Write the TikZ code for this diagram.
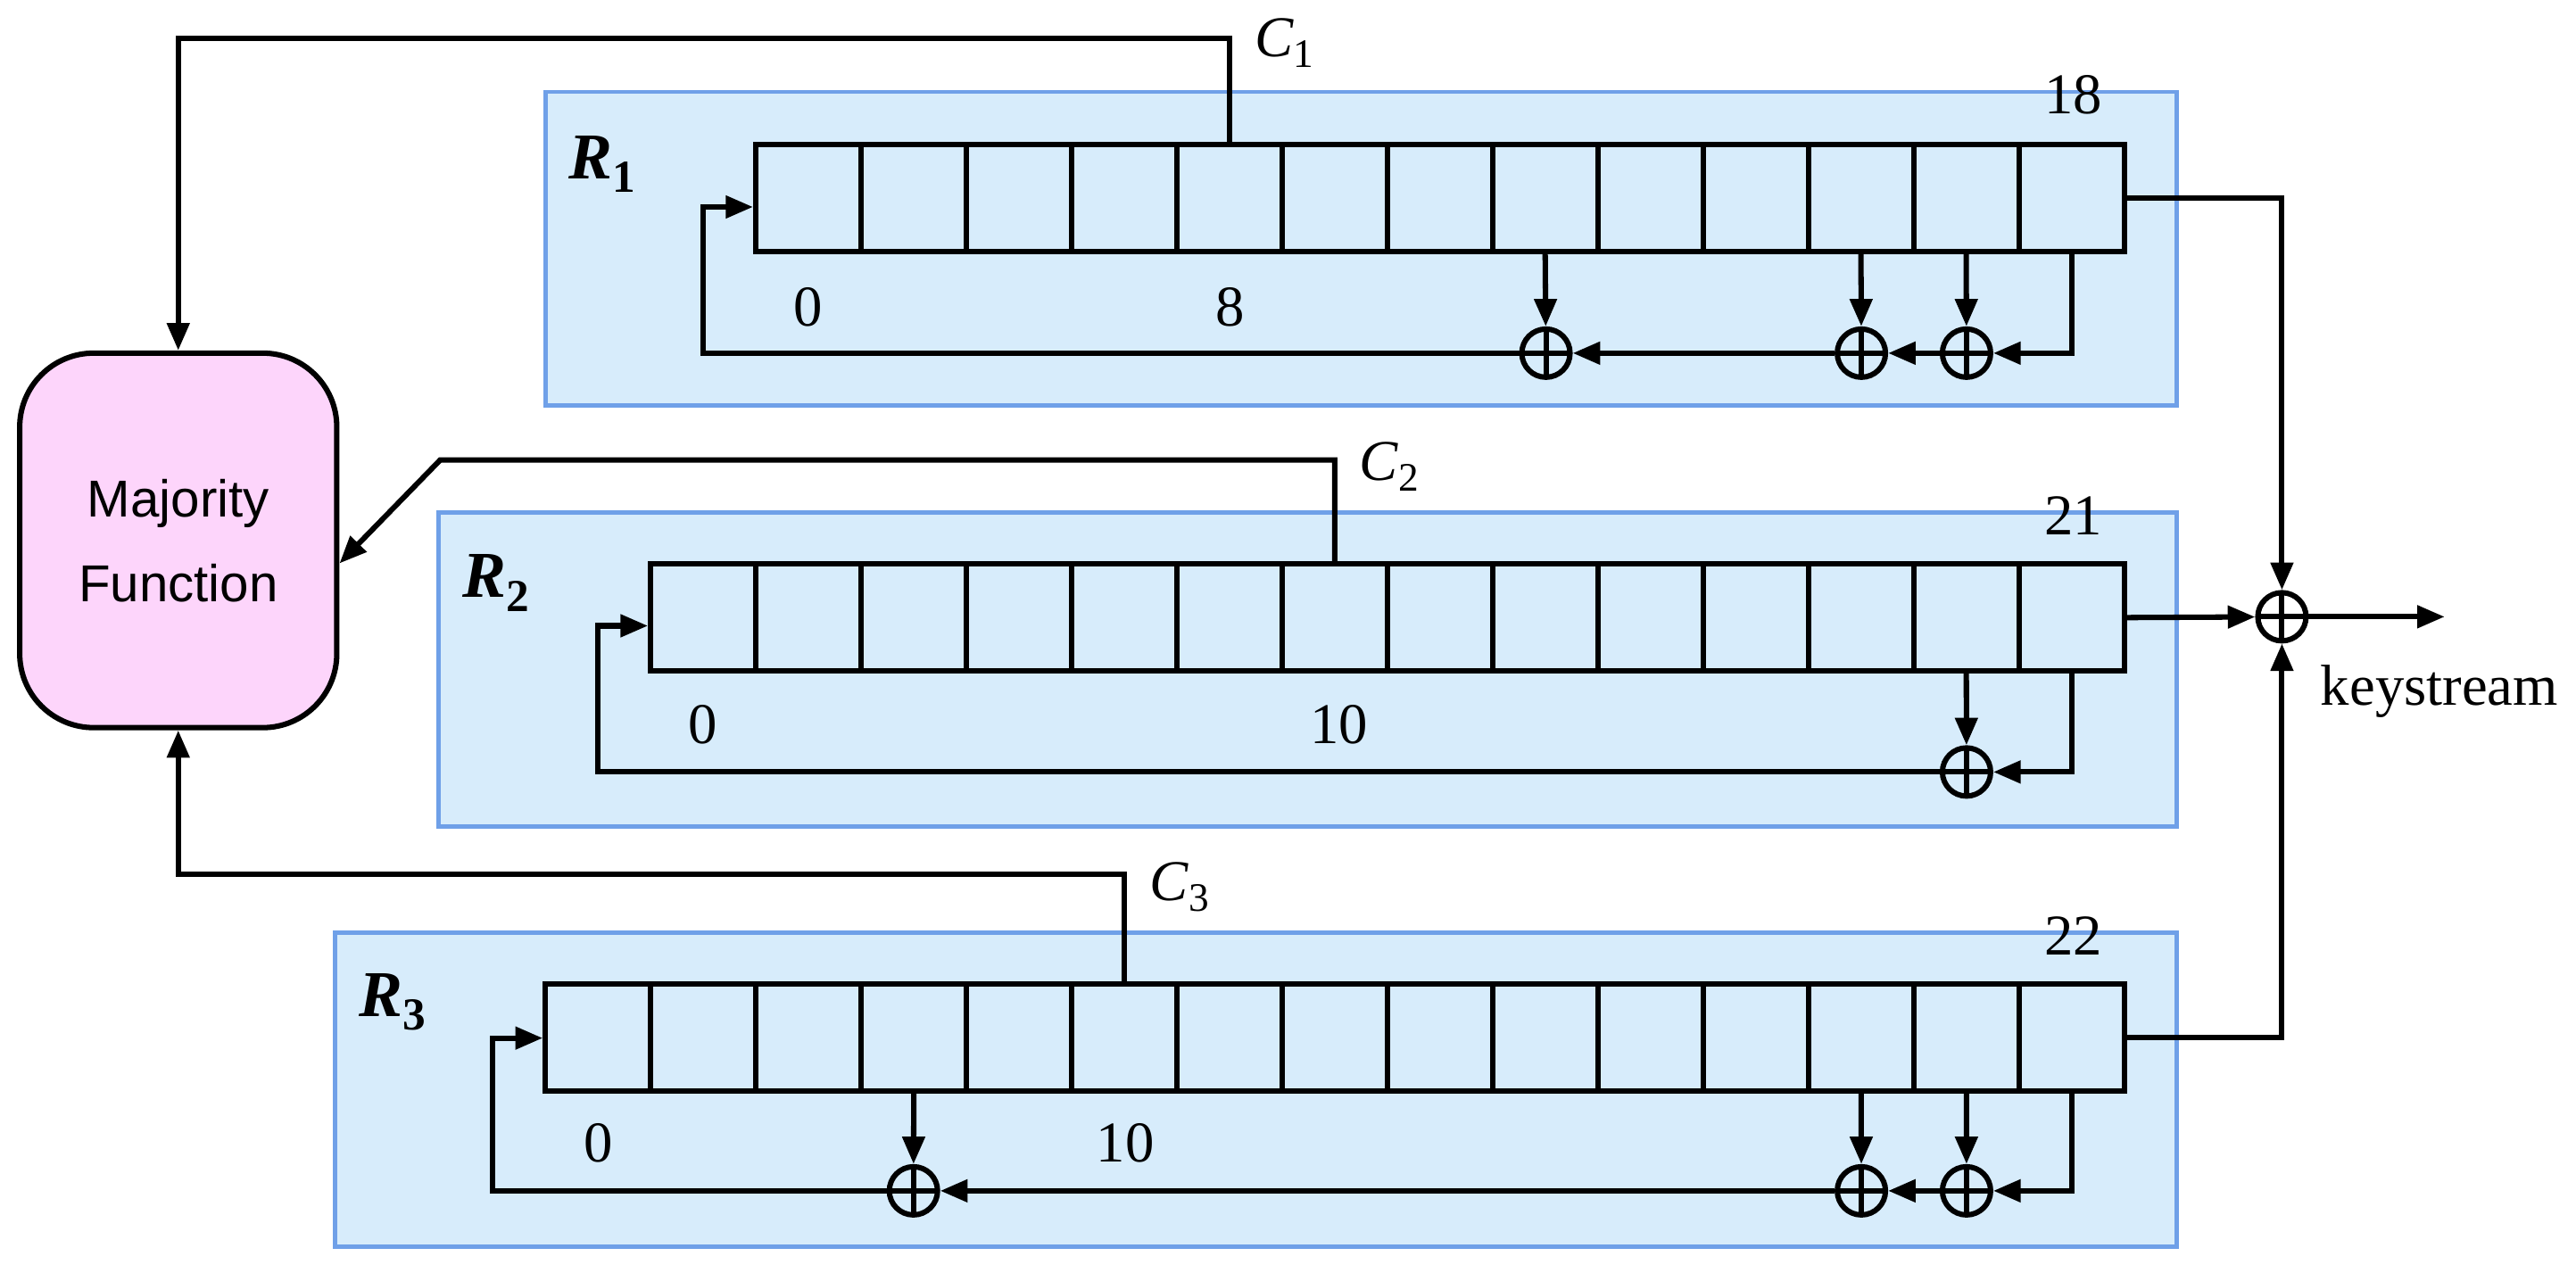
\documentclass[tikz,border=0pt]{standalone}
\usepackage{fontspec}
\setmainfont{Liberation Serif}
\newfontfamily\sans{Liberation Sans}
\usetikzlibrary{arrows.meta,calc}
\definecolor{boxfill}{RGB}{215,236,251}
\definecolor{boxline}{RGB}{111,160,232}
\definecolor{majfill}{RGB}{253,213,251}
\begin{document}
\begin{tikzpicture}[x=0.03cm,y=-0.03cm,
  line width=2.8pt,
  arr/.style={-{Triangle[length=0.5cm,width=0.4cm]}},
  cell/.style={draw,rectangle,inner sep=0,minimum width=1.922cm,minimum height=1.95cm},
  xor/.style={draw,circle,inner sep=0,minimum size=0.88cm,
     path picture={\draw[line width=2.8pt] (path picture bounding box.north)--(path picture bounding box.south)
       (path picture bounding box.west)--(path picture bounding box.east);}},
  reg/.style={draw=boxline,fill=boxfill,line width=2.2pt},
  lab/.style={font=\fontsize{30}{32}\selectfont,inner sep=0},
  rlab/.style={font=\fontsize{34}{36}\selectfont,inner sep=0}]
\useasboundingbox (0,0) rectangle (1568,774.5);
% register boxes
\draw[reg] (332,56) rectangle (1325,247);
\draw[reg] (267,312) rectangle (1325,503);
\draw[reg] (204,568) rectangle (1325,759);
% cells
\foreach \i in {0,...,12} \node[cell] (r1-\i) at ({460+(\i+0.5)*64.07},120.5) {};
\foreach \i in {0,...,13} \node[cell] (r2-\i) at ({396+(\i+0.5)*64.07},376) {};
\foreach \i in {0,...,14} \node[cell] (r3-\i) at ({332+(\i+0.5)*64.07},631.5) {};
% labels
\node[rlab] (R1) at (367,100) {\textbf{\textit{R}}\textsubscript{\textbf{1}}};
\node[rlab] (R2) at (302,355) {\textbf{\textit{R}}\textsubscript{\textbf{2}}};
\node[rlab] (R3) at (239,610) {\textbf{\textit{R}}\textsubscript{\textbf{3}}};
\node[lab] (n10) at (492,187) {0};
\node[lab] (n18) at (749,187) {8};
\node[lab] (n118) at (1262,58) {18};
\node[lab] (n20) at (428,441) {0};
\node[lab] (n210) at (815,441) {10};
\node[lab] (n221) at (1262,314) {21};
\node[lab] (n30) at (364,696) {0};
\node[lab] (n310) at (685,696) {10};
\node[lab] (n322) at (1262,570) {22};
\node[lab] (C1) at (782,26) {\textit{C}\textsubscript{1}};
\node[lab] (C2) at (846,284) {\textit{C}\textsubscript{2}};
\node[lab] (C3) at (718,540) {\textit{C}\textsubscript{3}};
\node[lab,anchor=west] (ks) at (1411,421) {keystream};
% majority
\node[draw,fill=majfill,rounded corners=1.35cm,minimum width=5.79cm,minimum height=6.84cm,
  align=center,font=\sans\fontsize{27}{44}\selectfont] (maj) at (108.5,329) {Majority\\Function};
% xors
\node[xor] (a7) at (941,215) {};
\node[xor] (a10) at (1133,215) {};
\node[xor] (a11) at (1197,215) {};
\node[xor] (b12) at (1197,470) {};
\node[xor] (c3) at (556,725) {};
\node[xor] (c12) at (1133,725) {};
\node[xor] (c13) at (1197,725) {};
\node[xor] (X) at (1389,375.5) {};
\coordinate (out) at (1488,375.5);
% R1 feedback
\draw[arr] (r1-7.south) -- (a7);
\draw[arr] (r1-10.south) -- (a10);
\draw[arr] (r1-11.south) -- (a11);
\draw[arr] (r1-12.south) |- (a11);
\draw[arr] (a11) -- (a10);
\draw[arr] (a10) -- (a7);
\coordinate (f1) at (428,126);
\draw[arr] (a7) -| (f1) -- (r1-0.west |- f1);
% R2 feedback
\draw[arr] (r2-12.south) -- (b12);
\draw[arr] (r2-13.south) |- (b12);
\coordinate (f2) at (364,381);
\draw[arr] (b12) -| (f2) -- (r2-0.west |- f2);
% R3 feedback
\draw[arr] (r3-3.south) -- (c3);
\draw[arr] (r3-12.south) -- (c12);
\draw[arr] (r3-13.south) -- (c13);
\draw[arr] (r3-14.south) |- (c13);
\draw[arr] (c13) -- (c12);
\draw[arr] (c12) -- (c3);
\coordinate (f3) at (300,632);
\draw[arr] (c3) -| (f3) -- (r3-0.west |- f3);
% outputs
\draw[arr] (r1-12.east) -| (X);
\draw[arr] (r2-13.east) -- (X);
\draw[arr] (r3-14.east) -| (X);
\draw[arr] (X) -- (out);
% clocking taps
\draw[arr] (r1-4.north) -- ++(0,-63) -| (maj);
\coordinate (c2b) at (268,280);
\draw[arr] (r2-6.north) |- (c2b) -- ($(maj.east)+(0,14)$);
\draw[arr] (r3-5.north) -- ++(0,-65) -| (maj);
\end{tikzpicture}
\end{document}
